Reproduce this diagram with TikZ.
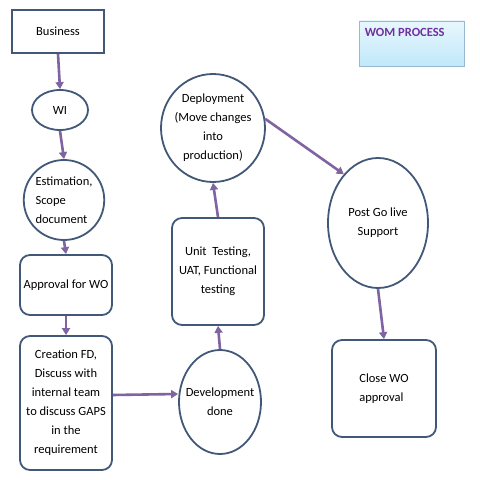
\documentclass[tikz,border=0pt]{standalone}
\usepackage{fontspec}
\setmainfont{Carlito}
\usetikzlibrary{shapes.geometric,arrows.meta}

\definecolor{nodeline}{RGB}{65,88,120}
\definecolor{flowline}{RGB}{128,100,162}
\definecolor{womtext}{RGB}{112,48,160}
\definecolor{womtop}{RGB}{232,247,253}
\definecolor{wombottom}{RGB}{192,232,250}
\definecolor{womline}{RGB}{150,185,205}

\tikzset{
  box/.style={draw=nodeline, line width=1.8pt, rectangle, inner sep=0pt},
  roundbox/.style={box, rounded corners=10pt},
  bubble/.style={draw=nodeline, line width=1.8pt, ellipse, inner sep=0pt},
  flow/.style={draw=flowline, line width=2.6pt, -{Triangle[length=7pt,width=8pt]}}
}

\begin{document}
\begin{tikzpicture}[x=1pt,y=1pt,font=\fontsize{12.5}{19}\selectfont]
		\useasboundingbox (0,0) rectangle (480,480);
		\fill[white] (0,0) rectangle (480,480);
		% left column
		\node[box, minimum width=92, minimum height=43] (business) at (58,448.5) {Business};
		\node[bubble, minimum width=56, minimum height=40] (wi) at (60,370) {WI};
		\node[bubble, minimum width=80, minimum height=80, align=left] (estimation) at (64,280) {Estimation,\\Scope\\document};
		\node[roundbox, minimum width=92, minimum height=60] (approval) at (66,195) {Approval for WO};
		\node[roundbox, minimum width=92, minimum height=134, align=center] (creation) at (66,77) {Creation FD,\\Discuss with\\internal team\\to discuss GAPS\\in the\\requirement};
		% middle column
		\node[bubble, minimum width=82, minimum height=104, inner xsep=-6pt, align=center] (development) at (220,78) {Development\\done};
		\node[roundbox, minimum width=92, minimum height=107, align=center] (unittest) at (218,208.5) {Unit\ \ Testing,\\UAT, Functional\\testing};
		\node[bubble, minimum width=104, minimum height=108, inner xsep=-3pt, align=center] (deployment) at (213,352) {Deployment\\(Move changes\\into\\production)};
		% right column
		\node[bubble, minimum width=100, minimum height=130, align=center] (postgolive) at (378,257) {Post Go live\\Support};
		\node[roundbox, minimum width=104, minimum height=97, align=left] (closewo) at (384,91.5) {Close WO\\approval};
		% title box
		\node[draw=womline, line width=0.8pt, top color=womtop, bottom color=wombottom, minimum width=105, minimum height=45, inner sep=0pt] (wom) at (411.5,436.5) {};
		\node[anchor=north west, inner sep=0pt, text=womtext, font=\fontsize{12.5}{14}\selectfont\bfseries] (womtitle) at ([xshift=6pt,yshift=-8pt]wom.north west) {WOM PROCESS};
		% connectors
		\draw[flow] (business.south) -- (wi.north);
		\draw[flow] (wi.south) -- (estimation.north);
		\draw[flow] (estimation.south) -- (approval.north);
		\draw[flow] (approval.south) -- (creation.north);
		\draw[flow] ([yshift=8pt]creation.east) -- ([yshift=8pt]development.west);
		\draw[flow] (development.north) -- (unittest.south);
		\draw[flow] (unittest.north) -- (deployment.south);
		\draw[flow] (deployment.10) -- (postgolive.125);
		\draw[flow] (postgolive.south) -- (closewo.north);
\end{tikzpicture}
\end{document}
